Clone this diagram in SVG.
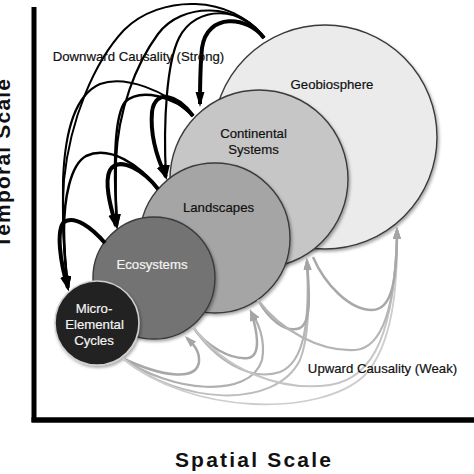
<svg xmlns="http://www.w3.org/2000/svg" width="474" height="474" viewBox="0 0 474 474">
<style>
text{font-family:"Liberation Sans",Arial,sans-serif;}
.lbl{font-size:13.2px;fill:#111;stroke:#111;stroke-width:0.2;text-anchor:middle;}
.wl{font-size:13.2px;fill:#f4f4f4;stroke:#f4f4f4;stroke-width:0.2;text-anchor:middle;}
.ax{font-size:21px;font-weight:bold;fill:#111;letter-spacing:2.2px;text-anchor:middle;}
.node{stroke:#3a3a3a;stroke-width:1.4;filter:url(#sh);}
.dn{fill:none;stroke:#000;marker-end:url(#ab);}
.up{fill:none;marker-end:url(#ag);}
</style>
<defs>
<filter id="sh" x="-10%" y="-10%" width="125%" height="125%">
<feDropShadow dx="1.5" dy="2" stdDeviation="1.5" flood-color="#000" flood-opacity="0.35"/>
</filter>
<marker id="ab" markerUnits="userSpaceOnUse" markerWidth="15" markerHeight="10" refX="12" refY="5" orient="auto">
<path d="M0,0.5 L15,5 L0,9.5 Z" fill="#000"/>
</marker>
<marker id="ag" markerUnits="userSpaceOnUse" markerWidth="12" markerHeight="8" refX="9" refY="4" orient="auto">
<path d="M0,0 L12,4 L0,8 Z" fill="#a5a5a5"/>
</marker>
</defs>
<rect width="474" height="474" fill="#fff"/>
<g id="axes">
<line x1="34" y1="7" x2="34" y2="422" stroke="#000" stroke-width="5"/>
<line x1="31.5" y1="420" x2="474" y2="420" stroke="#000" stroke-width="5.5"/>
<text class="ax" x="254" y="467">Spatial Scale</text>
<text class="ax" style="letter-spacing:1.2px" transform="translate(10,163) rotate(-90)">Temporal Scale</text>
</g>
<g id="geobiosphere"><circle class="node" cx="325" cy="137" r="112" fill="#ebebeb"/><text class="lbl" x="332" y="89">Geobiosphere</text></g>
<g id="continental"><circle class="node" cx="259" cy="179" r="89" fill="#c6c6c6"/><text class="lbl" x="253.5" y="138">Continental</text><text class="lbl" x="253.5" y="153.5">Systems</text></g>
<g id="landscapes"><circle class="node" cx="215" cy="238" r="75" fill="#a5a5a5"/><text class="lbl" x="218.5" y="212">Landscapes</text></g>
<g id="ecosystems"><circle class="node" cx="154" cy="278" r="61" fill="#737373"/><text class="wl" x="152" y="268.5">Ecosystems</text></g>
<g id="micro"><circle class="node" cx="97" cy="323" r="42" fill="#222" style="stroke:#cfcfcf;stroke-width:1.6"/><text class="wl" x="94" y="313">Micro-</text><text class="wl" x="94.5" y="329">Elemental</text><text class="wl" x="94" y="345">Cycles</text></g>
<g id="connectors">
<path class="dn" stroke-width="4" d="M264,38 C248,16 207,12 202,48 C200,68 200,88 200,104"/>
<path class="dn" stroke-width="2.2" d="M264,38 C244,6 196,4 179,38 C167,62 163,120 166,177"/>
<path class="dn" stroke-width="2.2" d="M264,38 C238,2 182,2 158,34 C136,64 118,110 116,160 C115,190 116,210 117,226"/>
<path class="dn" stroke-width="2" d="M264,38 C232,-6 160,-6 124,30 C94,62 70,120 64,180 C61,230 65,262 68,288"/>
<path class="dn" stroke-width="4" d="M193,116 C178,95 155,88 152,112 C150,135 158,160 166,177"/>
<path class="dn" stroke-width="2.5" d="M193,116 C175,96 140,88 125,102 C115,115 113,160 117,226"/>
<path class="dn" stroke-width="2" d="M193,116 C165,90 125,75 100,84 C75,95 65,130 63,180 C62,230 65,262 68,288"/>
<path class="dn" stroke-width="4" d="M158,189 C145,172 120,155 110,170 C104,182 110,205 116,226"/>
<path class="dn" stroke-width="2.5" d="M158,189 C140,165 110,145 86,156 C70,165 64,200 64,230 C64,255 66,272 68,288"/>
<path class="dn" stroke-width="4" d="M105,243 C92,228 75,215 64,222 C56,230 60,262 68,288"/>
<path class="up" stroke="#a8a8a8" stroke-width="2.5" d="M122,358 C160,376 196,382 199,362 C200,350 192,343 187,338"/>
<path class="up" stroke="#b0b0b0" stroke-width="2.2" d="M122,358 C170,392 250,400 262,360 C266,340 258,322 251,312"/>
<path class="up" stroke="#bcbcbc" stroke-width="2" d="M122,358 C180,405 275,410 300,360 C310,335 309,290 307,261"/>
<path class="up" stroke="#cdcdcd" stroke-width="1.8" d="M122,358 C190,415 320,418 365,375 C392,345 398,290 397,230"/>
<path class="up" stroke="#a8a8a8" stroke-width="2.5" d="M193,327 C205,345 230,360 248,358 C262,356 257,330 251,312"/>
<path class="up" stroke="#b5b5b5" stroke-width="2.2" d="M193,327 C215,360 250,382 280,372 C305,362 310,320 307,261"/>
<path class="up" stroke="#c5c5c5" stroke-width="2" d="M193,327 C225,370 280,392 330,385 C375,378 395,330 397,230"/>
<path class="up" stroke="#a8a8a8" stroke-width="2.5" d="M258,300 C268,318 285,334 300,328 C312,322 309,290 307,261"/>
<path class="up" stroke="#b5b5b5" stroke-width="2.2" d="M258,300 C280,330 320,352 355,350 C385,348 396,300 397,230"/>
<path class="up" stroke="#a8a8a8" stroke-width="2.5" d="M313,257 C325,285 350,310 372,310 C392,310 397,280 397,230"/>
</g>
<text class="lbl" x="138.5" y="60.5">Downward Causality (Strong)</text>
<text class="lbl" x="382.5" y="373">Upward Causality (Weak)</text>
</svg>
